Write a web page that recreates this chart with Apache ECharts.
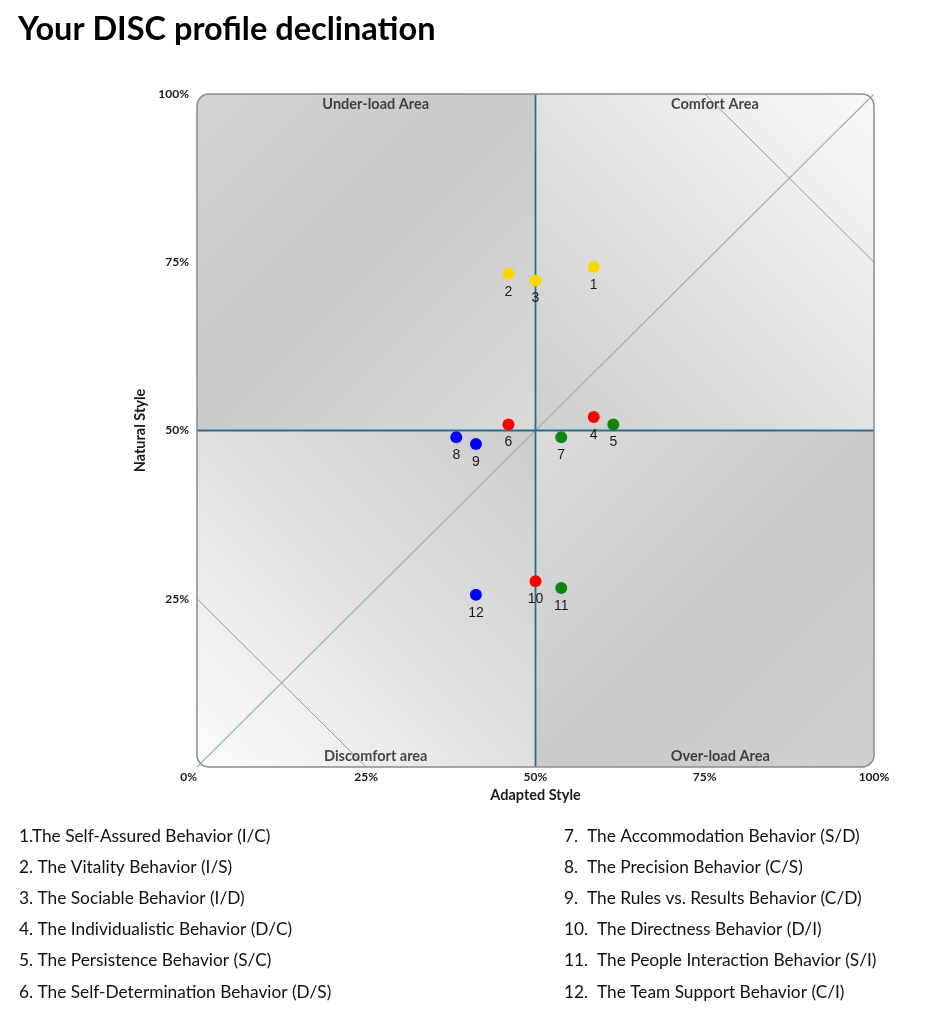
<!DOCTYPE html>
<html>
<head>
<meta charset="utf-8">
<title>Your DISC profile declination</title>
<script src="https://cdn.jsdelivr.net/npm/echarts@6/dist/echarts.min.js"></script>
<style>
  html, body { margin: 0; padding: 0; background: #fff; }
  #main { width: 936px; height: 1030px; }
</style>
</head>
<body>
<div id="main"></div>
<script>
// behaviour points: adapted style (x) / natural style (y), in %
const pointIds = ['1', '2', '3', '4', '5', '6', '7', '8', '9', '10', '11', '12']
const adapted = [58.6, 46.0, 50.0, 58.6, 61.5, 46.0, 53.8, 38.3, 41.2, 50.0, 53.8, 41.2]
const natural = [74.3, 73.3, 72.3, 52.0, 50.9, 50.9, 49.0, 49.0, 48.0, 27.6, 26.6, 25.6]
// primary DISC factor of each point
const primary = ['I', 'I', 'I', 'D', 'S', 'D', 'S', 'C', 'C', 'D', 'S', 'C']

const behaviors = [
    '1.The Self-Assured Behavior (I/C)',
    '2. The Vitality Behavior (I/S)',
    '3. The Sociable Behavior (I/D)',
    '4. The Individualistic Behavior (D/C)',
    '5. The Persistence Behavior (S/C)',
    '6. The Self-Determination Behavior (D/S)',
    '7.  The Accommodation Behavior (S/D)',
    '8.  The Precision Behavior (C/S)',
    '9.  The Rules vs. Results Behavior (C/D)',
    '10.  The Directness Behavior (D/I)',
    '11.  The People Interaction Behavior (S/I)',
    '12.  The Team Support Behavior (C/I)'
]

const axisTicks = [0, 25, 50, 75, 100]
const areaNames = ['Under-load Area', 'Comfort Area', 'Discomfort area', 'Over-load Area']
const areaX = [26.4, 76.5, 26.4, 77.3]
const areaY = [98.4, 98.4, 1.6, 1.6]

// reference lines
const midVertical = [[50, 0], [50, 100]]
const midHorizontal = [[0, 50], [100, 50]]
const diagonal = [[0, 0], [100, 100]]
const lowCorner = [[0, 25], [25, 0]]
const highCorner = [[75, 100], [100, 75]]

const factorColor = { D: '#ff0000', I: '#ffd700', S: '#0f870f', C: '#0000ff' }

// plot area in pixels
const G = { left: 197, top: 94, width: 677, height: 673 }
const hw = G.width / 2
const hh = G.height / 2

function grad (x, y, x2, y2, stops) {
    return new echarts.graphic.LinearGradient(x, y, x2, y2,
        stops.map(s => ({ offset: s[0], color: s[1] })))
}

const chart = echarts.init(document.getElementById('main'))

const points = pointIds.map((id, i) => ({
    name: id,
    value: [adapted[i], natural[i]],
    itemStyle: { color: factorColor[primary[i]], opacity: 1 }
}))

function refLine (data, color, width) {
    return {
        type: 'line',
        data,
        symbol: 'none',
        silent: true,
        z: 1,
        lineStyle: { color, width },
        animation: false
    }
}

// legend list under the chart, two columns
const listItems = behaviors.map((t, i) => ({
    type: 'text',
    x: i < 6 ? 19 : 564,
    y: 836 + (i % 6) * 31.2,
    style: {
        text: t,
        fontFamily: 'Lato',
        fontSize: 17.3,
        fill: '#111',
        verticalAlign: 'middle'
    }
}))

const boldText = { fontFamily: 'Lato', fontWeight: 'bold', color: '#1a1a1a' }

const option = {
    animation: false,
    title: {
        text: 'Your DISC profile declination',
        left: 13,
        top: 8,
        textStyle: { fontFamily: 'Lato', fontSize: 32.5, fontWeight: 'bold', color: '#000' }
    },
    grid: G,
    xAxis: {
        type: 'value',
        min: 0,
        max: 100,
        interval: 25,
        name: 'Adapted Style',
        nameLocation: 'middle',
        nameGap: 19,
        nameTextStyle: Object.assign({ fontSize: 14.5 }, boldText),
        axisLine: { show: false },
        axisTick: { show: false },
        splitLine: { show: false },
        axisLabel: Object.assign({
            formatter: '{value}%',
            margin: 4,
            fontSize: 12,
            alignMinLabel: 'right'
        }, boldText)
    },
    yAxis: {
        type: 'value',
        min: 0,
        max: 100,
        interval: 25,
        name: 'Natural Style',
        nameLocation: 'middle',
        nameGap: 29,
        nameTextStyle: Object.assign({ fontSize: 14.5 }, boldText),
        axisLine: { show: false },
        axisTick: { show: false },
        splitLine: { show: false },
        axisLabel: Object.assign({
            formatter: v => (v === 0 ? '' : v + '%'),
            margin: 8,
            fontSize: 12
        }, boldText)
    },
    graphic: [
        // quadrant backgrounds
        {
            type: 'rect', z: -10,
            shape: { x: G.left, y: G.top, width: hw, height: hh, r: [12, 0, 0, 0] },
            style: { fill: grad(0, 0, 1, 1, [[0, '#d4d4d4'], [0.45, '#c9c9c9'], [1, '#dadada']]) }
        },
        {
            type: 'rect', z: -10,
            shape: { x: G.left + hw, y: G.top, width: hw, height: hh, r: [0, 12, 0, 0] },
            style: { fill: grad(0, 1, 1, 0, [[0, '#cecece'], [0.5, '#e2e2e2'], [1, '#f9f9f9']]) }
        },
        {
            type: 'rect', z: -10,
            shape: { x: G.left, y: G.top + hh, width: hw, height: hh, r: [0, 0, 0, 12] },
            style: { fill: grad(0, 1, 1, 0, [[0, '#fcfcfc'], [0.5, '#e0e0e0'], [1, '#cdcdcd']]) }
        },
        {
            type: 'rect', z: -10,
            shape: { x: G.left + hw, y: G.top + hh, width: hw, height: hh, r: [0, 0, 12, 0] },
            style: { fill: grad(0, 0, 1, 1, [[0, '#dcdcdc'], [0.55, '#c9c9c9'], [1, '#d0d0d0']]) }
        },
        // frame
        {
            type: 'rect', z: 5,
            shape: { x: G.left, y: G.top, width: G.width, height: G.height, r: 12 },
            style: { fill: null, stroke: '#8a8a8a', lineWidth: 1.5 }
        },
        ...listItems
    ],
    series: [
        refLine(lowCorner, '#9a9a9a', 1),
        refLine(highCorner, '#9a9a9a', 1),
        refLine(diagonal, '#8fbdb4', 1.2),
        refLine(midVertical, '#2c6c8a', 1.8),
        refLine(midHorizontal, '#2c6c8a', 1.8),
        {
            type: 'scatter',
            data: areaNames.map((n, i) => ({ name: n, value: [areaX[i], areaY[i]] })),
            symbolSize: 0,
            silent: true,
            z: 3,
            label: Object.assign({
                show: true,
                position: 'inside',
                formatter: '{b}',
                fontSize: 14.5
            }, boldText)
        },
        {
            type: 'scatter',
            data: points,
            symbolSize: 12,
            z: 4,
            label: {
                show: true,
                position: 'bottom',
                distance: 5,
                formatter: '{b}',
                fontFamily: 'Liberation Sans',
                fontSize: 14,
                color: '#1a1a1a'
            }
        }
    ]
}

chart.setOption(option)
</script>
</body>
</html>
